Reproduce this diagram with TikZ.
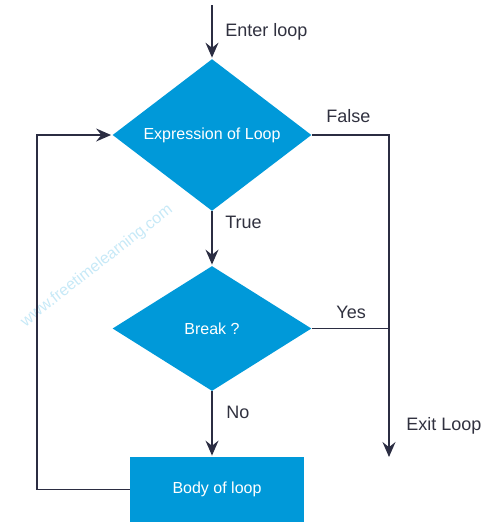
\documentclass[tikz,border=0pt]{standalone}
\usepackage{fontspec}
\setmainfont{Liberation Sans}
\usetikzlibrary{arrows.meta,positioning,shapes.geometric}
\definecolor{flowblue}{HTML}{0099D9}
\definecolor{flowline}{HTML}{2B2D42}
\definecolor{flowtext}{HTML}{30313F}

\begin{document}
\begin{tikzpicture}[
  x=0.5pt, y=-0.5pt,
  cond/.style={diamond, fill=flowblue, inner sep=0pt, minimum width=99.5pt, minimum height=62.5pt, text=white, font=\fontsize{8}{10}\selectfont},
  body/.style={rectangle, fill=flowblue, minimum width=87pt, minimum height=32.5pt, text=white, font=\fontsize{8}{10}\selectfont},
  lbl/.style={anchor=west, inner sep=0pt, text=flowtext, font=\fontsize{9}{11}\selectfont},
  ln/.style={line width=0.8pt, flowline},
  arr/.style={ln, -{Stealth[length=7.5pt, width=6.5pt, inset=2.6pt]}, shorten >=0.5pt},
]
  \useasboundingbox (0,0) rectangle (500,530);

  % Watermark
  \node[rotate=38, text=flowblue!22, font=\fontsize{8}{10}\selectfont] (mark) at (97,266) {www.freetimelearning.com};

  % Blocks
  \coordinate (enter) at (212,5);
  \node[cond] (expr) at (212,135) {Expression of Loop};
  \node[cond] (brk) at (212,328.5) {Break ?};
  \node[body] (body) at (217,489.5) {Body of loop};
  \coordinate (exit) at (389,458);

  % Edges
  \draw[arr] (enter) -- (expr);
  \draw[arr] (expr) -- (brk);
  \draw[arr] (brk) -- (brk |- body.north);
  \draw[arr] (expr.east) -| (exit);
  \draw[ln] (brk.east) -- (brk.east -| exit);
  \draw[arr] (body.west) -- ++(-92.5,0) |- (expr.west);

  % Labels
  \node[lbl] (enterlbl) at (225,32) {Enter loop};
  \node[lbl] (falselbl) at (326,116) {False};
  \node[lbl] (truelbl) at (225,222) {True};
  \node[lbl] (yeslbl) at (336,312) {Yes};
  \node[lbl] (nolbl) at (226,412) {No};
  \node[lbl] (exitlbl) at (406,426) {Exit Loop};
\end{tikzpicture}
\end{document}
